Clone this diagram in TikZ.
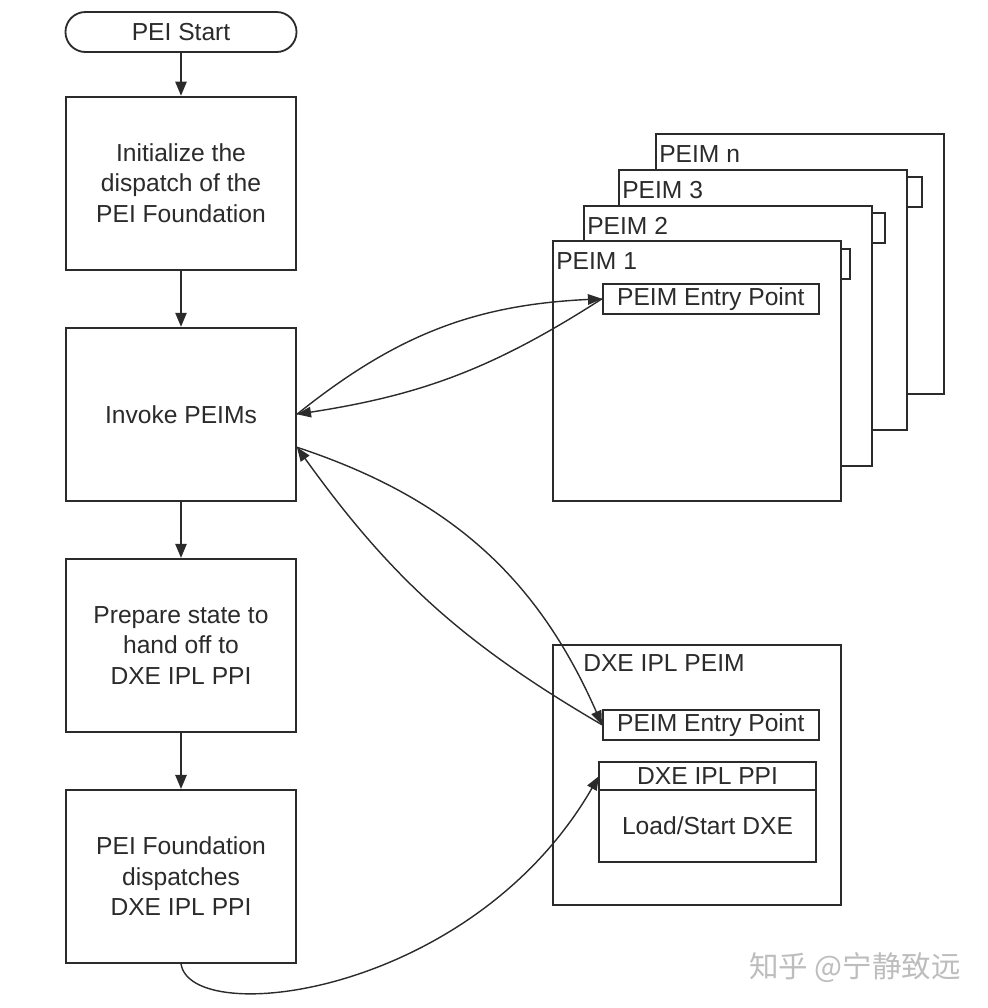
\documentclass[tikz,border=0pt]{standalone}
\usepackage{fontspec}
\setmainfont{Liberation Sans}
\newfontfamily\cjkfont{Noto Sans CJK SC}
\usepackage{tikz}
\usetikzlibrary{arrows.meta,positioning,calc}
\definecolor{inkgray}{HTML}{2B2B2B}
\definecolor{markgray}{HTML}{BDBDBD}
\tikzset{
  terminal/.style={
    rectangle,
    rounded corners=0.5cm,
    draw=inkgray,
    fill=white,
    line width=1.3pt,
    text=inkgray,
    minimum width=5.775cm,
    minimum height=1cm,
    font=\fontsize{17.5}{21.6}\selectfont
  },
  flow/.style={
    rectangle,
    draw=inkgray,
    fill=white,
    line width=1.3pt,
    text=inkgray,
    align=center,
    minimum width=5.75cm,
    minimum height=4.325cm,
    font=\fontsize{17.5}{21.6}\selectfont
  },
  module/.style={
    rectangle,
    draw=inkgray,
    fill=white,
    line width=1.3pt,
    anchor=north west,
    minimum width=7.2cm,
    minimum height=6.5cm
  },
  modtitle/.style={
    anchor=west,
    inner sep=0pt,
    text=inkgray,
    font=\fontsize{17.5}{21.6}\selectfont
  },
  entry/.style={
    rectangle,
    draw=inkgray,
    fill=white,
    line width=1.1pt,
    anchor=north west,
    inner sep=1pt,
    text=inkgray,
    minimum width=5.4cm,
    minimum height=0.75cm,
    font=\fontsize{17.5}{21.6}\selectfont
  },
  ppi/.style={
    rectangle,
    draw=inkgray,
    line width=1.1pt,
    outer sep=0pt,
    inner sep=1pt,
    text=inkgray,
    minimum width=5.425cm,
    font=\fontsize{17.5}{21.6}\selectfont
  },
  flowline/.style={-{Triangle[length=10pt,width=8pt]}, line width=1.3pt, draw=inkgray},
  line/.style={-{Triangle[length=10pt,width=7.5pt]}, line width=1pt, draw=inkgray}
}
\begin{document}
\begin{tikzpicture}[x=0.025cm, y=0.025cm, node distance=1.405cm]
  \useasboundingbox (0,0) rectangle (988,-1008);

  % main flow
  \node[terminal] (start) at (181,-32) {PEI Start};
  \node[flow, below=1.07cm of start] (init) {Initialize the\\dispatch of the\\PEI Foundation};
  \node[flow, below=of init] (invoke) {Invoke PEIMs};
  \node[flow, below=of invoke] (prepare) {Prepare state to\\hand off to\\DXE IPL PPI};
  \node[flow, below=of prepare] (dispatch) {PEI Foundation\\dispatches\\DXE IPL PPI};

  % PEIM stack, back to front
  \foreach \id/\x/\y in {n/655/133, 3/618/169, 2/583/205, 1/552/240} {
    \node[module] (peim\id) at (\x,-\y) {};
    \node[modtitle] (peimtitle\id) at ([shift={(4,-21)}]peim\id.north west) {PEIM \id};
    \node[entry] (ep\id) at ([shift={(50,-43)}]peim\id.north west) {PEIM Entry Point};
  }

  % DXE IPL PEIM
  \node[module] (dxe) at (552,-644) {};
  \node[modtitle] (dxetitle) at ([shift={(31,-19)}]dxe.north west) {DXE IPL PEIM};
  \node[entry] (dxeep) at ([shift={(50,-65)}]dxe.north west) {PEIM Entry Point};
  \node[ppi, anchor=north west, minimum height=0.7cm] (ppihead) at ([shift={(47,-118)}]dxe.north west) {DXE IPL PPI};
  \node[ppi, minimum height=1.8cm, below=0pt of ppihead] (ppibody) {Load/Start DXE};

  \node[text=markgray, font=\cjkfont\fontsize{21}{24}\selectfont] (watermark) at (855,-968) {知乎 @宁静致远};

  \draw[flowline] (start) -- (init);
  \draw[flowline] (init) -- (invoke);
  \draw[flowline] (invoke) -- (prepare);
  \draw[flowline] (prepare) -- (dispatch);

  \coordinate (invokelow) at ([shift={(0,-33)}]invoke.east);
  \draw[line] (invoke.east) to[bend left=18] (ep1.west);
  \draw[line] (ep1.west) to[bend left=12] (invoke.east);
  \draw[line] (invokelow) to[bend left=24] (dxeep.west);
  \draw[line] (dxeep.west) to[bend left=12] (invokelow);
  \draw[line] (dispatch.south) .. controls +(10,-65) and +(-127,-220) .. (ppihead.west);
\end{tikzpicture}
\end{document}
